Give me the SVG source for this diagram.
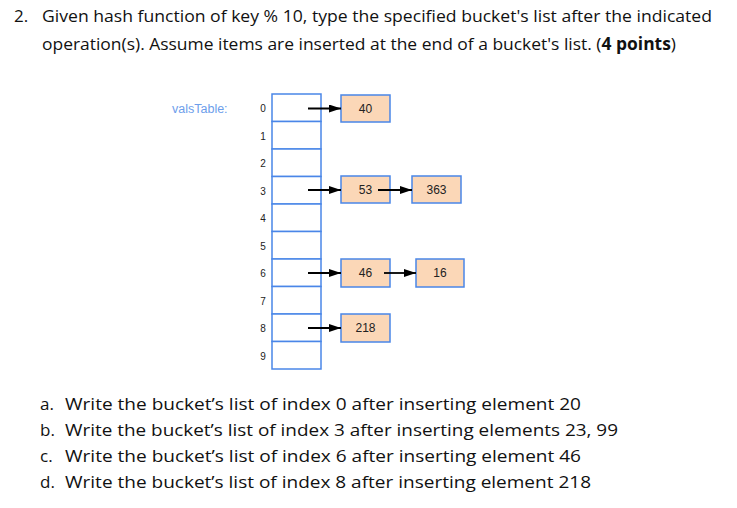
<svg xmlns="http://www.w3.org/2000/svg" width="737" height="508" viewBox="0 0 737 508">
<style>
.t{font-family:"Open Sans","Liberation Sans",sans-serif;font-size:17px;fill:#111}
.cell{fill:#fff;stroke:#4a86e8;stroke-width:1.5}
.node{fill:#fbd7b7;stroke:#4a86e8;stroke-width:1.5}
.idx{font-family:"Liberation Sans",Arial,sans-serif;font-size:10px;fill:#222;text-anchor:middle}
.val{font-family:"Liberation Sans",Arial,sans-serif;font-size:12px;fill:#222;text-anchor:middle}
.c line{stroke:#000;stroke-width:1.8;marker-end:url(#ah)}
</style>
<defs><marker id="ah" markerWidth="12" markerHeight="8" refX="12" refY="4" orient="auto" markerUnits="userSpaceOnUse"><path d="M0,0L12,4L0,8z" fill="#000"/></marker></defs>
<g id="heading">
<text class="t" x="14" y="22">2.</text>
<text class="t" x="42" y="22" textLength="670" lengthAdjust="spacingAndGlyphs">Given hash function of key % 10, type the specified bucket's list after the indicated</text>
<text class="t" x="42" y="50" textLength="634" lengthAdjust="spacingAndGlyphs">operation(s). Assume items are inserted at the end of a bucket's list. (<tspan font-weight="bold">4 points</tspan>)</text>
</g>
<g id="label"><text x="172" y="113" font-family="Liberation Sans,Arial,sans-serif" font-size="12.5" fill="#6d9eeb">valsTable:</text></g>
<g id="table">
<rect class="cell" x="272" y="94" width="49" height="27.5"/>
<rect class="cell" x="272" y="121.5" width="49" height="27.5"/>
<rect class="cell" x="272" y="149" width="49" height="27.5"/>
<rect class="cell" x="272" y="176.5" width="49" height="27.5"/>
<rect class="cell" x="272" y="204" width="49" height="27.5"/>
<rect class="cell" x="272" y="231.5" width="49" height="27.5"/>
<rect class="cell" x="272" y="259" width="49" height="27.5"/>
<rect class="cell" x="272" y="286.5" width="49" height="27.5"/>
<rect class="cell" x="272" y="314" width="49" height="27.5"/>
<rect class="cell" x="272" y="341.5" width="49" height="27.5"/>
<text class="idx" x="263" y="112">0</text>
<text class="idx" x="263" y="139.5">1</text>
<text class="idx" x="263" y="167">2</text>
<text class="idx" x="263" y="194.5">3</text>
<text class="idx" x="263" y="222">4</text>
<text class="idx" x="263" y="249.5">5</text>
<text class="idx" x="263" y="277">6</text>
<text class="idx" x="263" y="304.5">7</text>
<text class="idx" x="263" y="332">8</text>
<text class="idx" x="263" y="359.5">9</text>
</g>
<g id="n40"><rect class="node" x="341" y="95" width="49" height="27"/><text class="val" x="365.5" y="113">40</text></g>
<g id="n53"><rect class="node" x="341" y="176" width="49" height="27"/><text class="val" x="365.5" y="194">53</text></g>
<g id="n363"><rect class="node" x="412" y="176" width="49" height="27"/><text class="val" x="436.5" y="194">363</text></g>
<g id="n46"><rect class="node" x="341" y="259" width="49" height="28"/><text class="val" x="365.5" y="277">46</text></g>
<g id="n16"><rect class="node" x="416" y="259" width="48" height="28"/><text class="val" x="440" y="277">16</text></g>
<g id="n218"><rect class="node" x="341" y="314" width="49" height="28"/><text class="val" x="365.5" y="332">218</text></g>
<g class="c" id="connectors">
<line x1="308" y1="108.5" x2="341" y2="108.5"/>
<line x1="308" y1="190" x2="341" y2="190"/>
<line x1="378" y1="190" x2="412" y2="190"/>
<line x1="308" y1="273" x2="341" y2="273"/>
<line x1="384" y1="273" x2="416" y2="273"/>
<line x1="308" y1="328" x2="341" y2="328"/>
</g>
<g id="questions">
<text class="t" x="40" y="410">a.</text><text class="t" x="65" y="410" textLength="516" lengthAdjust="spacingAndGlyphs">Write the bucket’s list of index 0 after inserting element 20</text>
<text class="t" x="40" y="436">b.</text><text class="t" x="65" y="436" textLength="553" lengthAdjust="spacingAndGlyphs">Write the bucket’s list of index 3 after inserting elements 23, 99</text>
<text class="t" x="40" y="462">c.</text><text class="t" x="65" y="462" textLength="516" lengthAdjust="spacingAndGlyphs">Write the bucket’s list of index 6 after inserting element 46</text>
<text class="t" x="40" y="488">d.</text><text class="t" x="65" y="488" textLength="526" lengthAdjust="spacingAndGlyphs">Write the bucket’s list of index 8 after inserting element 218</text>
</g>
</svg>
